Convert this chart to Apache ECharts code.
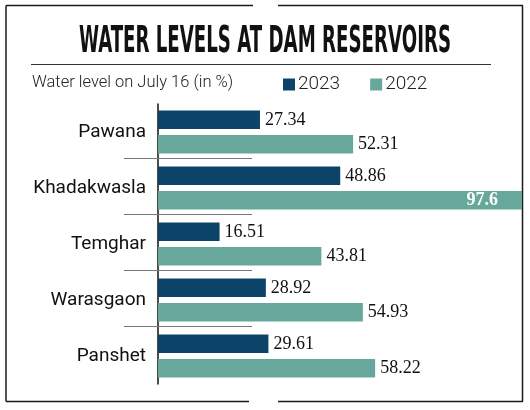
<!DOCTYPE html>
<html><head><meta charset="utf-8">
<script src="https://cdn.jsdelivr.net/npm/echarts@6/dist/echarts.min.js"></script>
<style>html,body{margin:0;padding:0;background:#fff}#c{width:530px;height:410px}</style>
</head><body><div id="c"></div>
<script>
const titleText = 'WATER LEVELS AT DAM RESERVOIRS';
const subtitleText = 'Water level on July 16 (in %)';
const categories = ['Pawana', 'Khadakwasla', 'Temghar', 'Warasgaon', 'Panshet'];
const seriesNames = ['2023', '2022'];
const values2023 = [27.34, 48.86, 16.51, 28.92, 29.61];
const values2022 = [52.31, 97.6, 43.81, 54.93, 58.22];

const C23 = '#0b4468', C22 = '#68a79c';
const chart = echarts.init(document.getElementById('c'), null, {renderer: 'canvas'});

// title width fit
const cv = document.createElement('canvas').getContext('2d');
cv.font = 'bold 37px "DejaVu Sans Condensed"';
const tw = cv.measureText(titleText).width || 600;
const sx = 372 / tw;

const gridTop = 104, gridBottom = 26, gridH = 410 - gridTop - gridBottom;
const band = gridH / categories.length;
const seps = [];
for (let i = 1; i < categories.length; i++) {
  const y = Math.round(gridTop + band * i) - 1.5;
  seps.push({type: 'line', shape: {x1: 124, y1: y, x2: 252, y2: y}, style: {stroke: '#777', lineWidth: 1}, z: 1});
}
const B = {stroke: '#1a1a1a', lineWidth: 1.5};
const borders = [
  {type: 'line', shape: {x1: 6, y1: 5.5, x2: 253, y2: 5.5}, style: B},
  {type: 'line', shape: {x1: 278, y1: 5.5, x2: 523, y2: 5.5}, style: B},
  {type: 'line', shape: {x1: 6, y1: 401.5, x2: 249, y2: 401.5}, style: B},
  {type: 'line', shape: {x1: 278, y1: 401.5, x2: 523, y2: 401.5}, style: B},
  {type: 'line', shape: {x1: 6, y1: 5.5, x2: 6, y2: 401.5}, style: B},
  {type: 'line', shape: {x1: 522.5, y1: 5.5, x2: 522.5, y2: 401.5}, style: B},
];

chart.setOption({
  animation: false,
  backgroundColor: '#fff',
  grid: {left: 158, right: 8, top: gridTop, bottom: gridBottom, containLabel: false},
  legend: {
    data: seriesNames, left: 283, top: 75, padding: 0, icon: 'rect', itemWidth: 12, itemHeight: 12, itemGap: 30,
    textStyle: {fontFamily: 'Roboto', fontWeight: 300, fontSize: 19, color: '#222', padding: [0, 0, 0, -2]}
  },
  xAxis: {type: 'value', min: 0, max: 97.6, show: false},
  yAxis: {
    type: 'category', data: categories, inverse: true,
    axisLine: {show: true, lineStyle: {color: '#111', width: 1.5}},
    axisTick: {show: false},
    axisLabel: {fontFamily: 'Roboto', fontSize: 19, color: '#111', margin: 12},
    splitLine: {show: false}
  },
  series: [
    {name: '2023', type: 'bar', data: values2023, barWidth: 18.5, barGap: '32%',
     itemStyle: {color: C23},
     label: {show: true, position: 'right', distance: 5, fontFamily: 'Liberation Serif', fontSize: 18, color: '#111'}},
    {name: '2022', type: 'bar', data: values2022.map(v => v > 90 ? {value: v, label: {position: 'insideRight', distance: 24, color: '#fff', fontWeight: 'bold'}} : v),
     barWidth: 18.5, itemStyle: {color: C22},
     label: {show: true, position: 'right', distance: 5, fontFamily: 'Liberation Serif', fontSize: 18, color: '#111'}}
  ],
  graphic: [
    ...borders,
    {type: 'group', x: 265, y: 42, scaleX: sx, scaleY: 1, children: [
      {type: 'text', x: 0, y: 0,
       style: {text: titleText, font: 'bold 37px "DejaVu Sans Condensed"', fill: '#111', textAlign: 'center', textVerticalAlign: 'middle'}}
    ]},
    {type: 'line', shape: {x1: 31, y1: 64.5, x2: 491, y2: 64.5}, style: {stroke: '#333', lineWidth: 1}},
    {type: 'text', x: 32, y: 83,
     style: {text: subtitleText, fontFamily: 'Roboto', fontWeight: 300, fontSize: 16.5, fill: '#222', textVerticalAlign: 'middle'}},
    ...seps
  ]
});
</script></body></html>
